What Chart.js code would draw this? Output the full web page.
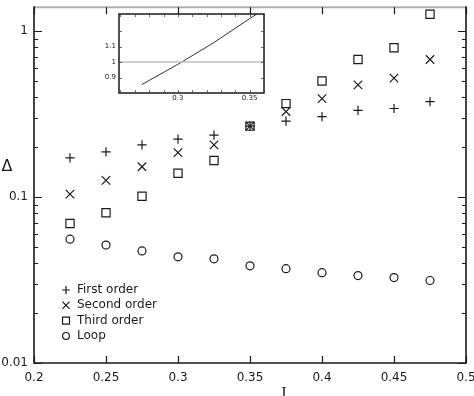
<!DOCTYPE html>
<html>
<head>
<meta charset="utf-8">
<script src="https://cdn.jsdelivr.net/npm/chart.js@4.4.0/dist/chart.umd.min.js"></script>
<style>
  body { margin: 0; background: #fff; }
  #wrap { position: relative; width: 474px; height: 396px; }
  #mainChart { position: absolute; left: 0; top: 0; }
  #insetChart { position: absolute; left: 95px; top: 5px; }
</style>
</head>
<body>
<div id="wrap">
  <canvas id="mainChart" width="474" height="396"></canvas>
  <canvas id="insetChart" width="175" height="105"></canvas>
</div>
<script>
// === Data ===
const couplings = [0.225, 0.25, 0.275, 0.3, 0.325, 0.35, 0.375, 0.4, 0.425, 0.45, 0.475];
const firstOrder = [0.172, 0.187, 0.206, 0.223, 0.236, 0.267, 0.286, 0.305, 0.332, 0.341, 0.375];
const secondOrder = [0.104, 0.126, 0.152, 0.185, 0.206, 0.267, 0.327, 0.391, 0.473, 0.52, 0.673];
const thirdOrder = [0.0692, 0.0804, 0.101, 0.139, 0.166, 0.267, 0.365, 0.499, 0.673, 0.792, 1.26];
const loopValues = [0.0557, 0.0513, 0.0473, 0.0436, 0.0424, 0.0385, 0.037, 0.035, 0.0336, 0.0327, 0.0314];

const seriesNames = ["First order", "Second order", "Third order", "Loop"];

const xTickValues = [0.2, 0.25, 0.3, 0.35, 0.4, 0.45, 0.5];
const xTickLabels = ["0.2", "0.25", "0.3", "0.35", "0.4", "0.45", "0.5"];
const yTickValues = [0.01, 0.1, 1];
const yTickLabels = ["0.01", "0.1", "1"];

// inset
const insetX = [0.275, 0.3, 0.325, 0.35, 0.36];
const insetY = [0.855, 0.985, 1.125, 1.28, 1.34];
const insetRefX = [0.25, 0.37];
const insetRefY = [1, 1];
const insetXTicks = [0.26, 0.27, 0.28, 0.29, 0.3, 0.31, 0.32, 0.33, 0.34, 0.35, 0.36];
const insetXLabels = { "0.3": "0.3", "0.35": "0.35" };
const insetYTicks = [0.9, 1, 1.1, 1.2];
const insetYLabels = { "0.9": "0.9", "1": "1", "1.1": "1.1" };

const ink = "#1a1a1a";

function pts(ys) {
	return couplings.map((x, i) => ({ x: x, y: ys[i] }));
}

const markerStyles = [
	{ pointStyle: "cross", radius: 4.6 },
	{ pointStyle: "crossRot", radius: 6 },
	{ pointStyle: "rect", radius: 5.8 },
	{ pointStyle: "circle", radius: 4 },
];

function makeSet(label, ys, i) {
	return {
		label: label,
		data: pts(ys),
		showLine: false,
		pointStyle: markerStyles[i].pointStyle,
		pointRadius: markerStyles[i].radius,
		pointHoverRadius: markerStyles[i].radius,
		pointBorderColor: ink,
		pointBackgroundColor: "rgba(0,0,0,0)",
		pointBorderWidth: 1.2,
	};
}

// === Plugin: frame, ticks, labels, legend ===
const mainFrame = {
	id: "mainFrame",
	afterDraw(chart) {
		const { ctx, chartArea: a, scales } = chart;
		const x = scales.x, y = scales.y;
		ctx.save();

		// top border (gray)
		ctx.strokeStyle = "#b0b0b0";
		ctx.lineWidth = 2;
		ctx.beginPath();
		ctx.moveTo(a.left, a.top);
		ctx.lineTo(a.right, a.top);
		ctx.stroke();

		// left, bottom, right
		ctx.strokeStyle = ink;
		ctx.lineWidth = 1.6;
		ctx.beginPath();
		ctx.moveTo(a.left, a.top - 1);
		ctx.lineTo(a.left, a.bottom);
		ctx.lineTo(a.right, a.bottom);
		ctx.lineTo(a.right, a.top - 1);
		ctx.stroke();

		// x ticks
		ctx.lineWidth = 1.2;
		ctx.beginPath();
		xTickValues.forEach((v) => {
			const px = Math.round(x.getPixelForValue(v)) + 0.5;
			ctx.moveTo(px, a.bottom);
			ctx.lineTo(px, a.bottom - 7);
			ctx.moveTo(px, a.top);
			ctx.lineTo(px, a.top + 7);
		});
		// y ticks (log)
		yTickValues.forEach((d) => {
			for (let k = 1; k <= 9; k++) {
				const v = k * d;
				if (v > y.max) break;
				const py = Math.round(y.getPixelForValue(v)) + 0.5;
				const len = k === 1 ? 8 : 4;
				ctx.moveTo(a.left, py);
				ctx.lineTo(a.left + len, py);
				ctx.moveTo(a.right, py);
				ctx.lineTo(a.right - len, py);
			}
		});
		ctx.stroke();

		// tick labels
		ctx.fillStyle = ink;
		ctx.font = '12px "DejaVu Sans"';
		ctx.textAlign = "center";
		ctx.textBaseline = "middle";
		xTickValues.forEach((v, i) => {
			ctx.fillText(xTickLabels[i], x.getPixelForValue(v), a.bottom + 15);
		});
		ctx.textAlign = "right";
		yTickValues.forEach((v, i) => {
			ctx.fillText(yTickLabels[i], a.left - 6, y.getPixelForValue(v));
		});

		// axis titles
		ctx.textAlign = "center";
		ctx.font = '16px "DejaVu Sans"';
		ctx.fillText("\u0394", 7, 167);
		ctx.textBaseline = "alphabetic";
		ctx.font = '16px "Liberation Serif"';
		ctx.fillText("J", 283, 398);

		// legend
		ctx.textAlign = "left";
		ctx.textBaseline = "middle";
		ctx.font = '12px "DejaVu Sans"';
		chart.data.datasets.forEach((ds, i) => {
			const ly = 290 + i * 15.3;
			ctx.strokeStyle = ink;
			ctx.fillStyle = "rgba(0,0,0,0)";
			ctx.lineWidth = 1.2;
			Chart.helpers.drawPoint(ctx, {
				pointStyle: ds.pointStyle,
				radius: ds.pointRadius * 0.85,
				rotation: 0,
				borderWidth: 1.2,
			}, 66, ly);
			ctx.fillStyle = ink;
			ctx.fillText(ds.label, 77, ly);
		});

		ctx.restore();
	},
};

new Chart(document.getElementById("mainChart"), {
	type: "scatter",
	data: {
		datasets: [
			makeSet(seriesNames[0], firstOrder, 0),
			makeSet(seriesNames[1], secondOrder, 1),
			makeSet(seriesNames[2], thirdOrder, 2),
			makeSet(seriesNames[3], loopValues, 3),
		],
	},
	options: {
		responsive: false,
		animation: false,
		layout: { padding: { left: 34, right: 8, top: 1, bottom: 33 } },
		plugins: { legend: { display: false }, tooltip: { enabled: false } },
		scales: {
			x: { type: "linear", min: 0.2, max: 0.5, display: false },
			y: { type: "logarithmic", min: 0.01, max: 1.39, display: false },
		},
	},
	plugins: [mainFrame],
});

// === Inset ===
const insetFrame = {
	id: "insetFrame",
	afterDraw(chart) {
		const { ctx, chartArea: a, scales } = chart;
		const x = scales.x, y = scales.y;
		ctx.save();
		ctx.strokeStyle = ink;
		ctx.lineWidth = 1.5;
		ctx.strokeRect(a.left, a.top, a.right - a.left, a.bottom - a.top);

		ctx.lineWidth = 0.8;
		ctx.strokeStyle = "#444";
		ctx.beginPath();
		insetXTicks.forEach((v) => {
			const px = Math.round(x.getPixelForValue(v)) + 0.5;
			ctx.moveTo(px, a.bottom);
			ctx.lineTo(px, a.bottom - 3);
			ctx.moveTo(px, a.top);
			ctx.lineTo(px, a.top + 3);
		});
		insetYTicks.forEach((v) => {
			const py = Math.round(y.getPixelForValue(v)) + 0.5;
			ctx.moveTo(a.left, py);
			ctx.lineTo(a.left + 3, py);
			ctx.moveTo(a.right, py);
			ctx.lineTo(a.right - 3, py);
		});
		ctx.stroke();

		ctx.fillStyle = ink;
		ctx.font = '7px "DejaVu Sans"';
		ctx.textBaseline = "middle";
		ctx.textAlign = "right";
		insetYTicks.forEach((v) => {
			const lab = insetYLabels[String(v)];
			if (lab) ctx.fillText(lab, a.left - 3, y.getPixelForValue(v));
		});
		ctx.textAlign = "center";
		insetXTicks.forEach((v) => {
			const lab = insetXLabels[String(v)];
			if (lab) ctx.fillText(lab, x.getPixelForValue(v), a.bottom + 5);
		});
		ctx.restore();
	},
};

new Chart(document.getElementById("insetChart"), {
	type: "scatter",
	data: {
		datasets: [
			{
				data: insetRefX.map((v, i) => ({ x: v, y: insetRefY[i] })),
				showLine: true,
				borderColor: "#bdbdbd",
				borderWidth: 1.5,
				pointRadius: 0,
			},
			{
				data: insetX.map((v, i) => ({ x: v, y: insetY[i] })),
				showLine: true,
				borderColor: "#333",
				borderWidth: 1,
				pointRadius: 0,
			},
		],
	},
	options: {
		responsive: false,
		animation: false,
		layout: { padding: { left: 24, right: 6, top: 9, bottom: 17 } },
		plugins: { legend: { display: false }, tooltip: { enabled: false } },
		scales: {
			x: { type: "linear", min: 0.259, max: 0.36, display: false },
			y: { type: "linear", min: 0.8, max: 1.31, display: false },
		},
	},
	plugins: [insetFrame],
});
</script>
</body>
</html>
